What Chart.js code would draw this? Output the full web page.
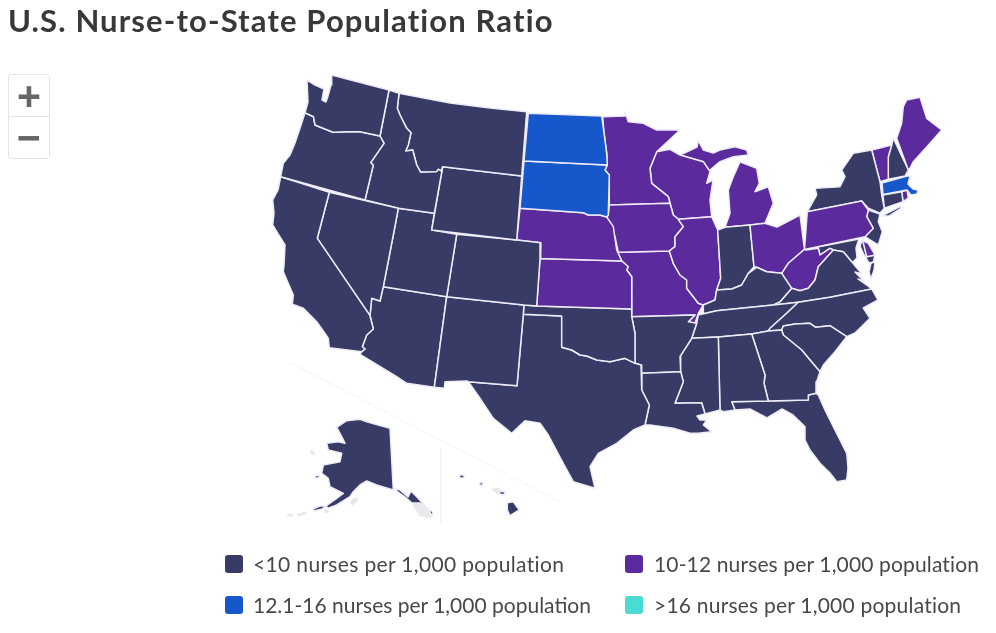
<!DOCTYPE html>
<html><head><meta charset="utf-8">
<script src="https://cdn.jsdelivr.net/npm/chart.js@4"></script>
<style>
html,body{margin:0;padding:0;background:#fff;width:996px;height:633px;overflow:hidden}
#map{position:absolute;left:0;top:0}
h1{position:absolute;left:8px;top:0;margin:0;font:700 31px/40px Lato,sans-serif;color:#383838;white-space:nowrap;letter-spacing:1.13px}
#zoom{position:absolute;left:8px;top:74px;width:40px;height:83px;border:1px solid #e4e4e4;border-radius:3px;background:#fff}
#zoom div{height:41px;text-align:center;font:700 41px/42px "Liberation Sans",sans-serif;color:#666}
#zoom div:first-child{border-bottom:1px solid #e4e4e4}
.lg{position:absolute;font:400 21px/24px Lato,sans-serif;color:#484848;white-space:nowrap}
.sw{position:absolute;width:18px;height:18px;border-radius:3px}
</style></head><body>
<canvas id="map" width="996" height="633"></canvas>
<h1 id="title"></h1>
<div id="zoom"><div>+</div><div>&#8722;</div></div>
<div id="legend"></div>
<script>
const chartTitle = "U.S. Nurse-to-State Population Ratio";
const zoneLabels = ["<10 nurses per 1,000 population","10-12 nurses per 1,000 population","12.1-16 nurses per 1,000 population",">16 nurses per 1,000 population"];
const zoneColors = ["#373b66","#5b2a9d","#1757cc","#4adcd3"];
const zoneMid = ["MN","WI","IA","MO","IL","NE","KS","MI","MIU","OH","PA","WV","VT","ME","DE","RI"];
const zoneHigh = ["ND","SD","MA"];

// State outlines, in map units
const WA=[331.7,75,389,90,380,136,360,131.7,346.7,131.7,333,132.3,323,128.3,315,125,313.5,116.7,305,112.7,308,102,307,80,315,85,324,89,322,100,326,102,328,96,331,85];
const OR=[305,112.7,313.5,116.7,315,125,323,128.3,333,132.3,346.7,131.7,360,131.7,380,136,384,143.3,370.7,162.7,373.3,165,365,200,280.7,176.7,283.3,163.3,290,155,295,143,300,128.3];
const CA=[280.7,176.7,329.3,192.3,317.3,238.3,370,315.7,373.3,329,366.7,335,362.3,346.7,365,349,361.7,351.7,329.3,347.7,328.3,338.3,316.7,321.7,303.3,308.3,292.3,304.3,293.3,295,283.3,271.7,284,265,285,245,276.7,231.7,272.7,225,274,213,272.7,200,278,190];
const NV=[329.3,192.3,398.3,208.3,393.3,235,383.3,286.7,380,301,371.7,298.3,370,315.7,317.3,238.3];
const ID=[389,90,399,93.3,397.3,108.3,400,115,406.7,128.3,411,132.7,408.3,145,405.7,151,412.7,150,416.7,165,420.7,172.3,436.7,171.7,438.3,169.3,441.7,171,442.7,166.7,434.3,213.3,398.3,208.3,365,200,373.3,165,370.7,162.7,384,143.3,380,136];
const MT=[399,93.3,450,103,490,108,526.7,111.7,521.7,176,442.7,166.7,441.7,171,438.3,169.3,436.7,171.7,420.7,172.3,416.7,165,412.7,150,405.7,151,408.3,145,411,132.7,406.7,128.3,400,115,397.3,108.3];
const WY=[442.7,166.7,521.7,176,516.7,240,431.7,230];
const UT=[398.3,208.3,434.3,213.3,431.7,230,456.7,234.3,446.7,296.7,383.3,286.7,393.3,235];
const CO=[456.7,234.3,516.7,240,540.7,242.7,540,259,536.7,306,524,305,446.7,296.7];
const NM=[446.7,296.7,524,305,523.3,314.3,517,385.7,468.3,381.7,467.3,381,445,381.7,444.3,388.3,434.3,387.3];
const AZ=[383.3,286.7,446.7,296.7,434.3,387.3,406.7,383.3,396.7,376.7,360,354.3,361.7,351.7,365,349,362.3,346.7,366.7,335,373.3,329,370,315.7,371.7,298.3,380,301];
const ND=[528.3,113.3,601.7,116,604,133,606.7,153.3,607.3,165,524,161];
const SD=[524,161,607.3,165,605,170,609.3,175,608.3,215,606.7,217,600,215,588.3,215,583.3,212.7,520,208.3];
const NE=[520,208.3,583.3,212.7,588.3,215,600,215,606.7,217,613.3,226.7,616.7,250,621.7,261,540,258.5,540.7,242.7,516.7,240];
const KS=[540,258.5,621.7,261,628.3,266.7,626.7,270,631.7,276.7,631.7,309,536.7,306];
const OK=[524,305,536.7,306,631.7,309,631.7,316.7,635,333.3,635,363.3,625,358.3,610,361.7,596.7,360,586.7,356,580,355,571.7,350,561.7,347.3,561.7,316,523.3,314.3];
const TX=[523.3,314.3,561.7,316,561.7,347.3,571.7,350,580,355,586.7,356,596.7,360,610,361.7,625,358.3,635,363.3,641,365,641.7,390,649.3,405,645,425,633.3,430,616.7,443.3,598.3,453.3,590,466.7,595,488.3,573.3,481.7,565,466.7,548.3,435,540,423.3,525,420.7,511.7,433.3,493.3,418.3,480,398.3,468.3,381.7,517,385.7];
const LA=[641.7,373.3,680.7,371.7,683.3,381.7,675,403.3,701.7,402.7,705,414,697,416,700,420,706.7,420,703.3,425,711.7,431.7,698.3,433.3,690,433.3,673.3,428.3,650,425,645,425,649.3,405,641.7,390];
const AR=[631.7,316.7,695,315,688.3,321.7,696.7,323.3,691.7,338.3,680,356.7,680.7,371.7,641.7,373.3,641,365,635,363.3,635,333.3];
const MS=[691.7,338.3,718.3,337,720,410,705,414,701.7,402.7,675,403.3,683.3,381.7,680.7,371.7,680,356.7];
const AL=[718.3,337,751.7,334,765,375,764,383.3,768.3,401,731.7,401.7,735,410,723.3,411.7,720,410];
const GA=[751.7,334,768.3,331,781.7,330,783.3,335,801.7,350,810,360,820,371.7,816.7,381.7,816,393.3,808.3,395,808.3,400,768.3,401,764,383.3,765,375];
const FL=[731.7,401.7,768.3,401,808.3,400,808.3,395,816,393.3,818.3,395,825,410,833.3,426.7,840,440,846.7,453.3,848,468,846.7,480,836.7,481.7,830,473,820,463.3,810,450,805,440,805,426.7,793,415,782,409,767,418,750,409,735,410];
const SC=[781.7,330,783.3,326,795,324,810,323.3,815.7,327.3,830,325.7,846.7,336.7,835,351.7,823.3,365,820,371.7,810,360,801.7,350,783.3,335];
const NC=[871.7,289,878,300,863.3,308,870,318.3,855,333,846.7,336.7,830,325.7,815.7,327.3,810,323.3,795,324,783.3,326,781.7,330,768.3,331,770,328.3,786.7,313.3,798.3,302.3,830,297.3];
const TN=[698.3,315,716.7,310.7,773.3,305,798.3,302.3,786.7,313.3,770,328.3,768.3,331,751.7,334,718.3,337,691.7,338.3,696.7,323.3];
const KY=[698.3,315,703.3,313.3,703.3,305,715,300,716.7,290,731.7,289,741.7,285,748.3,273.3,756.7,267.3,766.7,271.7,781.7,273.3,785,278.3,791.7,288.3,780,301.7,773.3,305,716.7,310.7];
const VA=[773.3,305,780,301.7,791.7,288.3,800,290.7,808.3,288.3,815,280,818.3,266.7,833.3,250,843.3,251.7,851.7,261.7,862,274,855,272,864,281,858,279,868,286,871.7,289,830,297.3,798.3,302.3];
const WV=[781.7,273.3,788.3,263.3,801.7,251.7,804.5,249.5,806,250,818.3,248.3,820,255,830,248.3,833.3,250,818.3,266.7,815,280,808.3,288.3,800,290.7,791.7,288.3,785,278.3];
const OH=[750,225,765,223.3,777,227,800,215,804.5,249.5,801.7,251.7,788.3,263.3,781.7,273.3,766.7,271.7,756.7,267.3,754,266.7];
const IN=[717.7,230,725,227.3,750,225,754,266.7,748.3,273.3,741.7,285,731.7,289,716.7,290,720.7,278.3];
const IL=[678.3,219.3,711.7,216.7,717.7,230,720.7,278.3,716.7,290,715,300,703.3,305,698.3,303.3,686.7,288.3,686.7,280,680,275,673.3,263.3,669.3,251,675,246.7,675,236.7,683.3,226.7];
const IA=[609.3,205,670,203.3,673.3,215,678.3,219.3,683.3,226.7,675,236.7,675,246.7,669.3,251,618.3,252.3,615,236.7,606.7,217,608.3,215];
const MO=[616.7,250,618.3,252.3,669.3,251,673.3,263.3,680,275,686.7,280,686.7,288.3,698.3,303.3,703.3,305,698.3,313.3,695,323.3,688.3,321.7,695,315,631.7,316.7,631.7,276.7,626.7,270,628.3,266.7,621.7,261];
const MN=[602.7,116.7,625,116,625,111.7,628.3,121.7,643.3,123.3,656.7,130,680,130,656.7,151.7,650,168.3,651.7,183.3,668.3,196.7,670,203.3,609.3,205,609.3,175,605,170,607.3,165,606.7,153.3,604,133];
const WI=[656.7,151.7,670,149.3,680,155,703.3,161.7,710,171.7,706.7,183.3,713,180,710,200,711.7,216.7,678.3,219.3,673.3,215,668.3,196.7,651.7,183.3,650,168.3];
const MIU=[680,155,697,147,698.3,140.7,703.3,150,713.3,153,720,150,735,146.7,746.7,150,748.3,155,733.3,156.7,720,161.7,710,170,707,182,710,171.7,703.3,161.7];
const MI=[740,161.7,756.7,168.3,759.3,183.3,755,191.7,768.3,186.7,773.3,203.3,765,223.3,750,225,725,227.3,730,213.3,728.3,190,733.3,176.7];
const PA=[807.3,211.7,861.7,201,868.3,210,866.7,216.7,873.3,228.3,865,236.7,804.5,249.5];
const NY=[871.7,150,853.3,153.3,841.7,170,845,176.7,840,186.7,815,188.3,816.7,195,808.3,210,807.3,211.7,861.7,201,868.3,208.3,880,213.3,884.3,208.3,881.7,195,880,181.7];
const LI=[881.7,216,900,206.7,901.7,208,889,216];
const VT=[871.7,150,891.7,145,888.3,156.7,888.3,179.3,880,181.7];
const NH=[893.3,138.3,908.3,170,905,176,888.3,179.3,888.3,156.7,891.7,145];
const ME=[896.7,138.3,901.7,123.3,903.3,106.7,906.7,100,920,97.3,926.7,118.3,941.7,130,930,143.3,913.3,161.7,910,168.3,908.3,170];
const MA=[882,183,907,176,910,176,908,184,913,189,918,190,917,194,911,195,907,190,883,194.5];
const CT=[883,195,901.7,191.7,903,201.7,884.3,208.3];
const RI=[901.7,191.7,907,190,908.3,198,903,201.7];
const NJ=[868.3,210,880,214,878.3,221.7,882.3,231.7,878.3,245,870,240,865,236.7,873.3,228.3,866.7,216.7];
const DE=[862.7,240.7,866.7,256.7,875,255,868.3,243.3];
const MD=[804.5,249.5,859,239,856,248,857,258,853,262,851.7,261.7,843.3,251.7,833.3,250,830,248.3,820,255,818.3,248.3,806,250];
const MDE=[863,238.3,866.7,256.7,875,255,873.3,262,869,263,864,255,860,246];
const VE=[871,263,875,262,874,270,871,279,869,272];
const AK=[336.7,427.3,346.7,420.7,360,419.3,366.7,421.7,390,428.3,393.3,490,376.7,485,366.7,481,360,485,353.3,491.7,350,496.7,336.7,505,328.3,508.3,326,506,336,499,343.3,493.3,330,486.7,328.3,478.3,321.7,473.3,323.3,465,340,461.7,341.7,453.3,328.3,450,326.7,443.3,338.3,441.7,345,443.3,341.7,436.7];
const AKP=[393.3,488,400,490,408,497,411,491,417,497,427,508,433,512,432,516,429,510,420,503,412,503,405,497,398,492];
const AKC=[327,506,322,509,314,511,313,509,320,506];
const AKN=[315,476,319,475,319,478,315,478];
const AKG=[418,497,427,508,433,513,431,518,420,516,413,505];
const KOD=[350,503,353,499,357,498,357,501,353,505];
const ALE1=[287,515,292,514,293,516,288,516];
const ALE2=[297,514,305,512,306,514,298,516];
const ALE3=[326,509,329,512,326,513,324,511];
const STL=[310,450,313,451,315,454,312,455];
const HIG=[492,489,499,488,503,493,497,494];
const HI1=[507.3,502.7,513.3,501.7,519.3,510,510,515.7,507.3,510];
const HI2=[499,491,505,492,504,495,500,494];
const HI3=[479,482,483,483,482,486,480,485];
const HI4=[459,475,464,475,464,478,460,478];
const rule1=[288.3,361.7,560,501.7];
const rule2=[440.7,448.3,440.7,523.3];

const statePaths = {WA,OR,CA,NV,ID,MT,WY,UT,CO,NM,AZ,ND,SD,NE,KS,OK,TX,LA,AR,MS,AL,GA,FL,SC,NC,TN,KY,VA,WV,OH,IN,IL,IA,MO,MN,WI,MIU,MI,PA,NY,LI,VT,NH,ME,MA,CT,RI,NJ,DE,MD,MDE,VE,AK,AKP,AKC,AKN,HI1,HI2,HI3,HI4};
const islandPaths = [AKG,KOD,ALE1,ALE2,ALE3,STL,HIG];

function toPoints(a, close){
  const p=[];
  for(let i=0;i<a.length;i+=2) p.push({x:a[i],y:a[i+1]});
  if(close) p.push({x:a[0],y:a[1]});
  return p;
}
function zoneColor(name){
  if(zoneHigh.includes(name)) return zoneColors[2];
  if(zoneMid.includes(name)) return zoneColors[1];
  return zoneColors[0];
}
const datasets = Object.keys(statePaths).map(name=>({
  label:name,
  data:toPoints(statePaths[name],true),
  showLine:true,fill:'shape',tension:0,
  backgroundColor:zoneColor(name),
  borderColor:'#eeecf6',borderWidth:1.5,borderJoinStyle:'round',
  pointRadius:0,pointHoverRadius:0,clip:false,order:1
}));
islandPaths.forEach((path,i)=>datasets.push({label:'island '+(i+1),data:toPoints(path,true),showLine:true,fill:'shape',backgroundColor:'#e9e9eb',borderColor:'#e9e9eb',borderWidth:1,pointRadius:0,order:2}));
[rule1,rule2].forEach((r,i)=>datasets.push({label:'inset rule '+(i+1),data:toPoints(r,false),showLine:true,fill:false,borderColor:'#f4f4f4',borderWidth:1,pointRadius:0,order:3}));

new Chart(document.getElementById('map'),{
  type:'scatter',
  data:{datasets},
  options:{
    responsive:false,animation:false,
    layout:{padding:0},
    plugins:{legend:{display:false},tooltip:{enabled:false},title:{display:false}},
    events:[],
    scales:{
      x:{type:'linear',display:false,min:0,max:996},
      y:{type:'linear',display:false,min:0,max:633,reverse:true}
    }
  }
});

document.getElementById('title').textContent = chartTitle;
const pos=[[225,253,555,.35],[625,654,555,.14],[225,253,596,0],[625,654,596,.22]];
const legend=document.getElementById('legend');
zoneLabels.forEach((t,i)=>{
  const sw=document.createElement('div');sw.className='sw';sw.style.cssText=`left:${pos[i][0]}px;top:${pos[i][2]}px;background:${zoneColors[i]}`;
  const tx=document.createElement('div');tx.className='lg';tx.textContent=t;tx.style.cssText=`left:${pos[i][1]}px;top:${pos[i][2]-3}px;letter-spacing:${pos[i][3]}px`;
  legend.append(sw,tx);
});
</script>
</body></html>
